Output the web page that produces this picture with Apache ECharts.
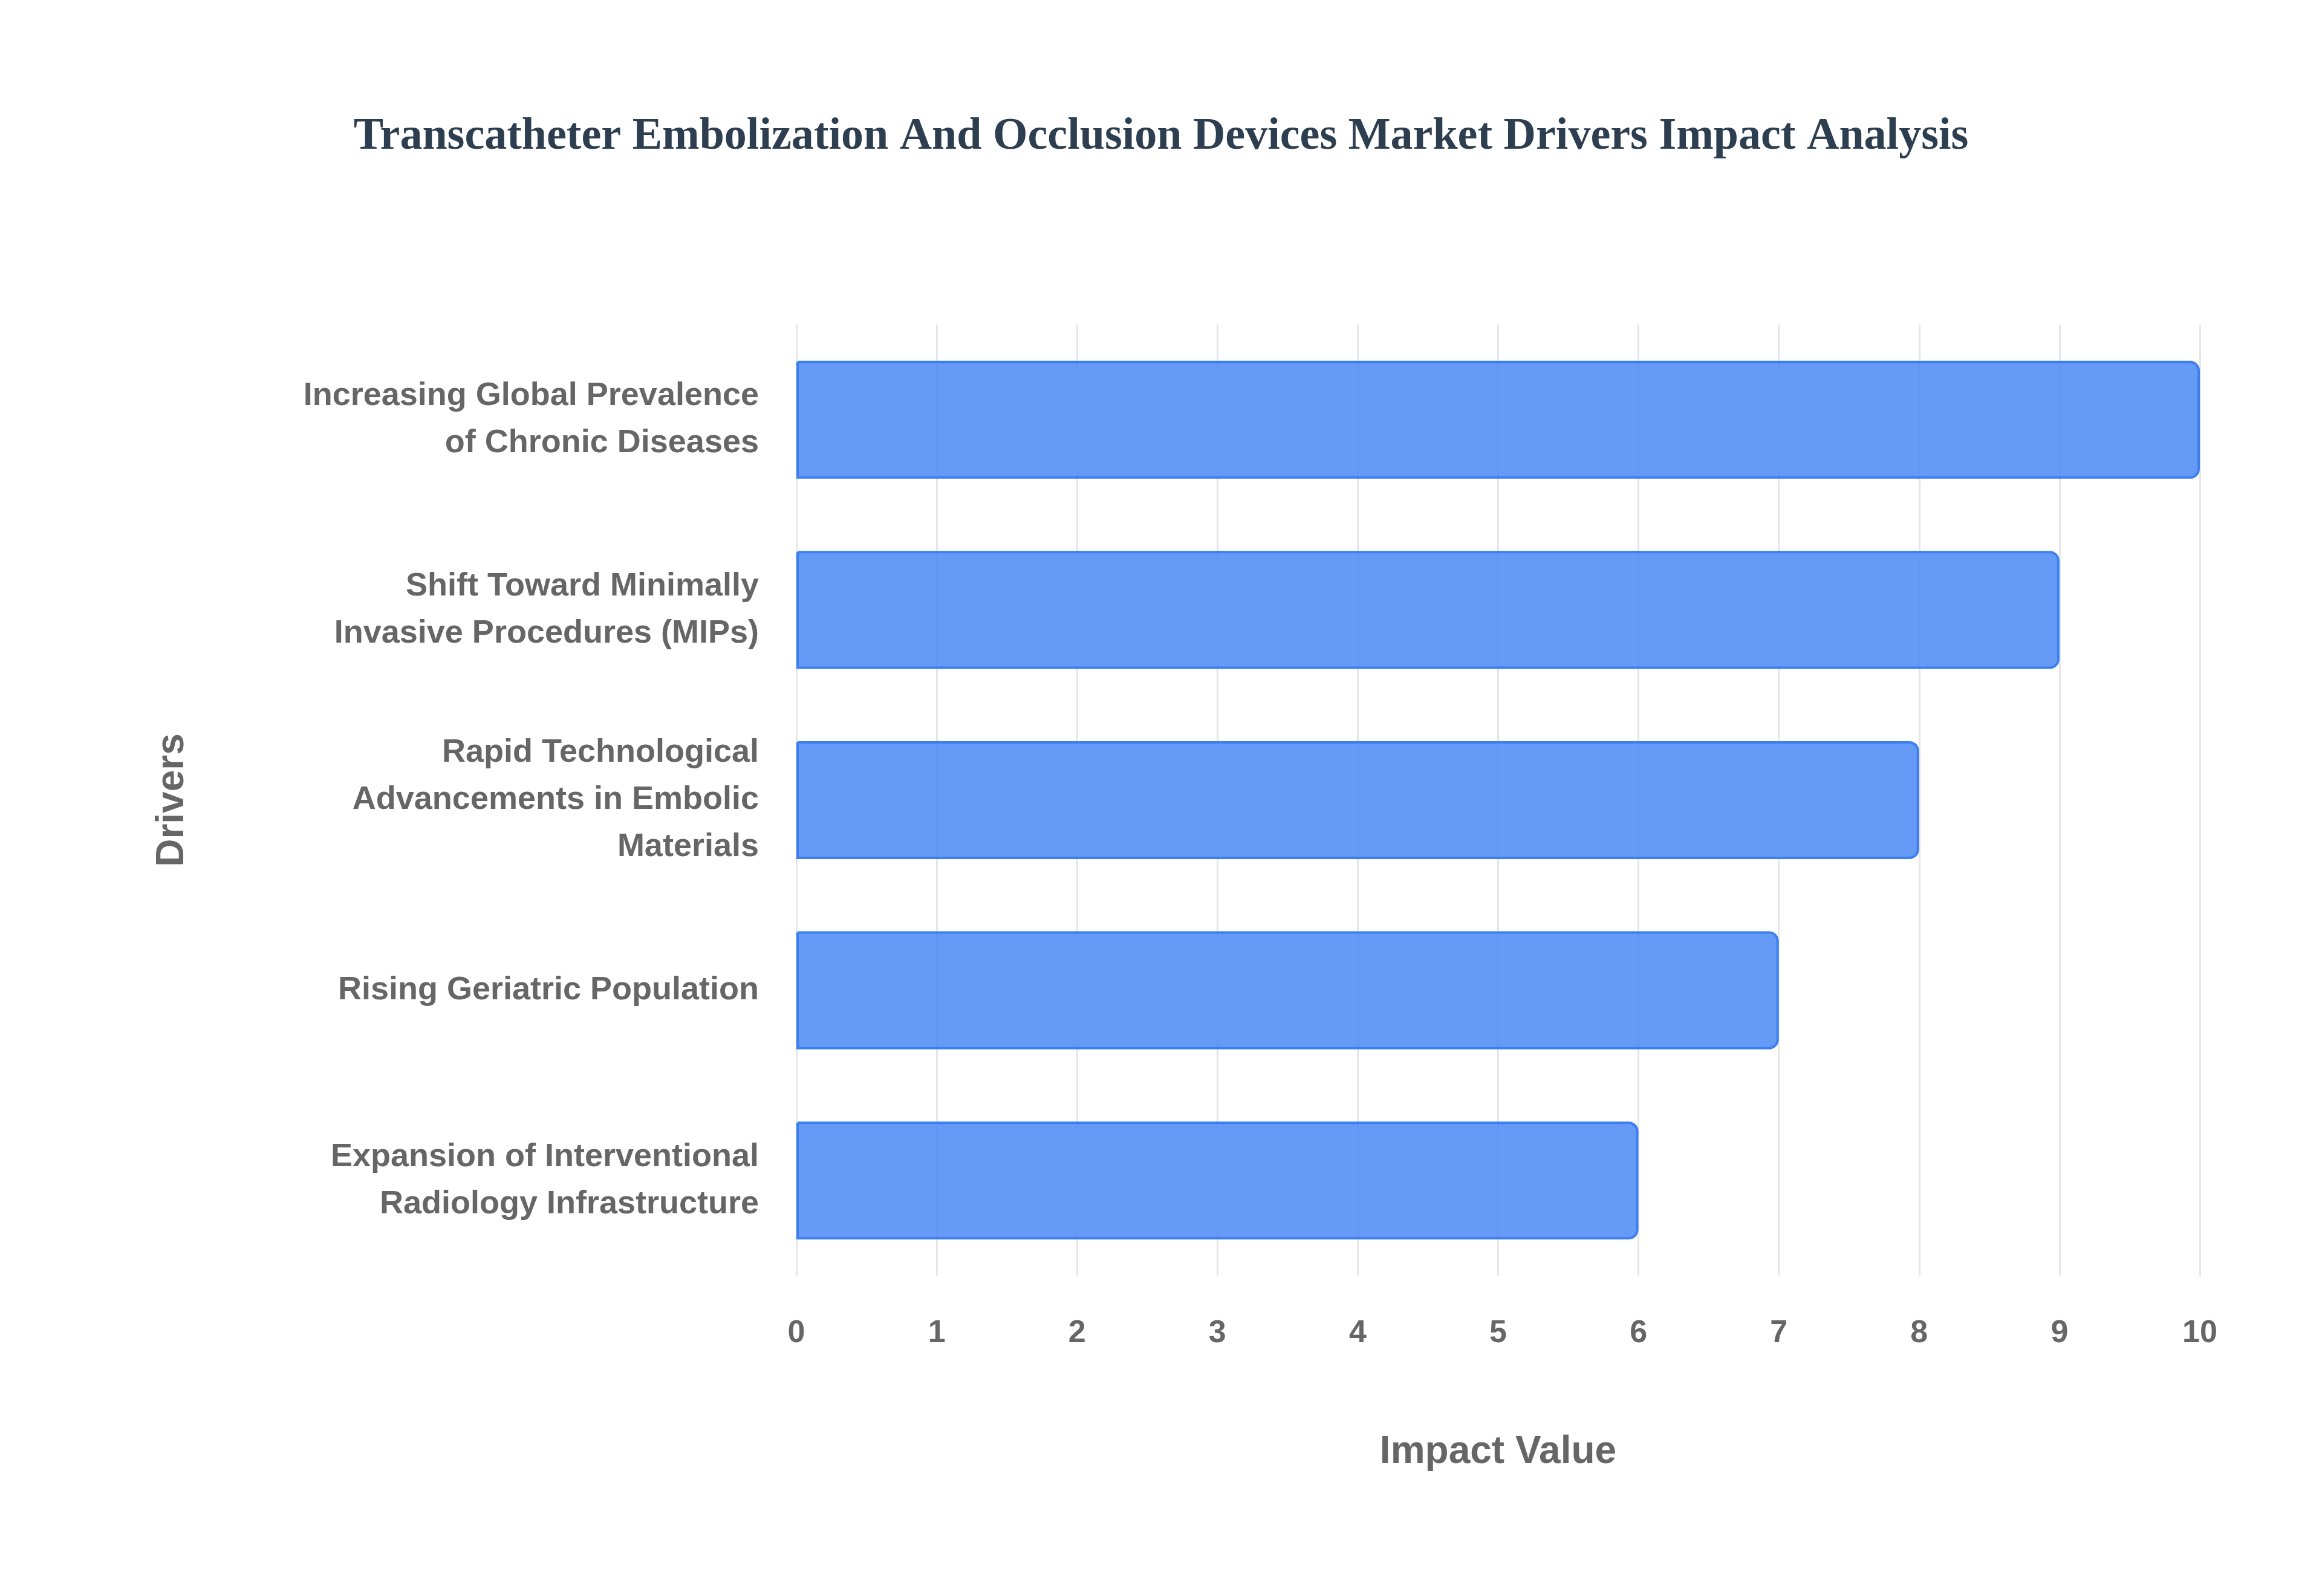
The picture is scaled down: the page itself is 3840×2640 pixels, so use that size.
<!DOCTYPE html>
<html>
<head>
<meta charset="utf-8">
<script src="https://cdn.jsdelivr.net/npm/echarts@6/dist/echarts.min.js"></script>
<style>html,body{margin:0;padding:0;background:#fff}#c{width:3840px;height:2640px}</style>
</head>
<body>
<div id="c"></div>
<script>
const drivers = [
  'Expansion of Interventional\nRadiology Infrastructure',
  'Rising Geriatric Population',
  'Rapid Technological\nAdvancements in Embolic\nMaterials',
  'Shift Toward Minimally\nInvasive Procedures (MIPs)',
  'Increasing Global Prevalence\nof Chronic Diseases'
];
const impactValues = [6, 7, 8, 9, 10];
const xTicks = { min: 0, max: 10, interval: 1 };

const chart = echarts.init(document.getElementById('c'));
const labelFont = 'Liberation Sans, Arial, sans-serif';

chart.setOption({
  backgroundColor: '#ffffff',
  title: {
    text: 'Transcatheter Embolization And Occlusion Devices Market Drivers Impact Analysis',
    left: 'center',
    top: 185,
    textStyle: {
      fontFamily: 'Liberation Serif, Times New Roman, serif',
      fontWeight: 'bold',
      fontSize: 74,
      color: '#2c3e50'
    }
  },
  grid: { left: 1317, right: 202, top: 537, bottom: 530 },
  xAxis: {
    type: 'value',
    min: xTicks.min,
    max: xTicks.max,
    interval: xTicks.interval,
    name: 'Impact Value',
    nameLocation: 'middle',
    nameGap: 260,
    nameTextStyle: { fontFamily: labelFont, fontWeight: 'bold', fontSize: 64, color: '#666' },
    axisLine: { show: false },
    axisTick: { show: false },
    axisLabel: { fontFamily: labelFont, fontWeight: 'bold', fontSize: 52, color: '#666', margin: 70 },
    splitLine: { lineStyle: { color: '#e6e6e6', width: 3 } }
  },
  yAxis: {
    type: 'category',
    data: drivers,
    name: 'Drivers',
    nameLocation: 'middle',
    nameGap: 1000,
    nameRotate: 90,
    nameTextStyle: { fontFamily: labelFont, fontWeight: 'bold', fontSize: 64, color: '#666' },
    axisLine: { show: true, lineStyle: { color: '#e6e6e6', width: 3 } },
    axisTick: { show: false },
    axisLabel: {
      fontFamily: labelFont, fontWeight: 'bold', fontSize: 54, color: '#666',
      margin: 62, lineHeight: 78, align: 'right'
    },
    splitLine: { show: false }
  },
  series: [{
    type: 'bar',
    data: impactValues,
    barWidth: '62%',
    itemStyle: {
      color: 'rgba(80,140,245,0.88)',
      borderColor: '#3b7ff0',
      borderWidth: 4,
      borderRadius: [0, 14, 14, 0]
    }
  }]
});
</script>
</body>
</html>
